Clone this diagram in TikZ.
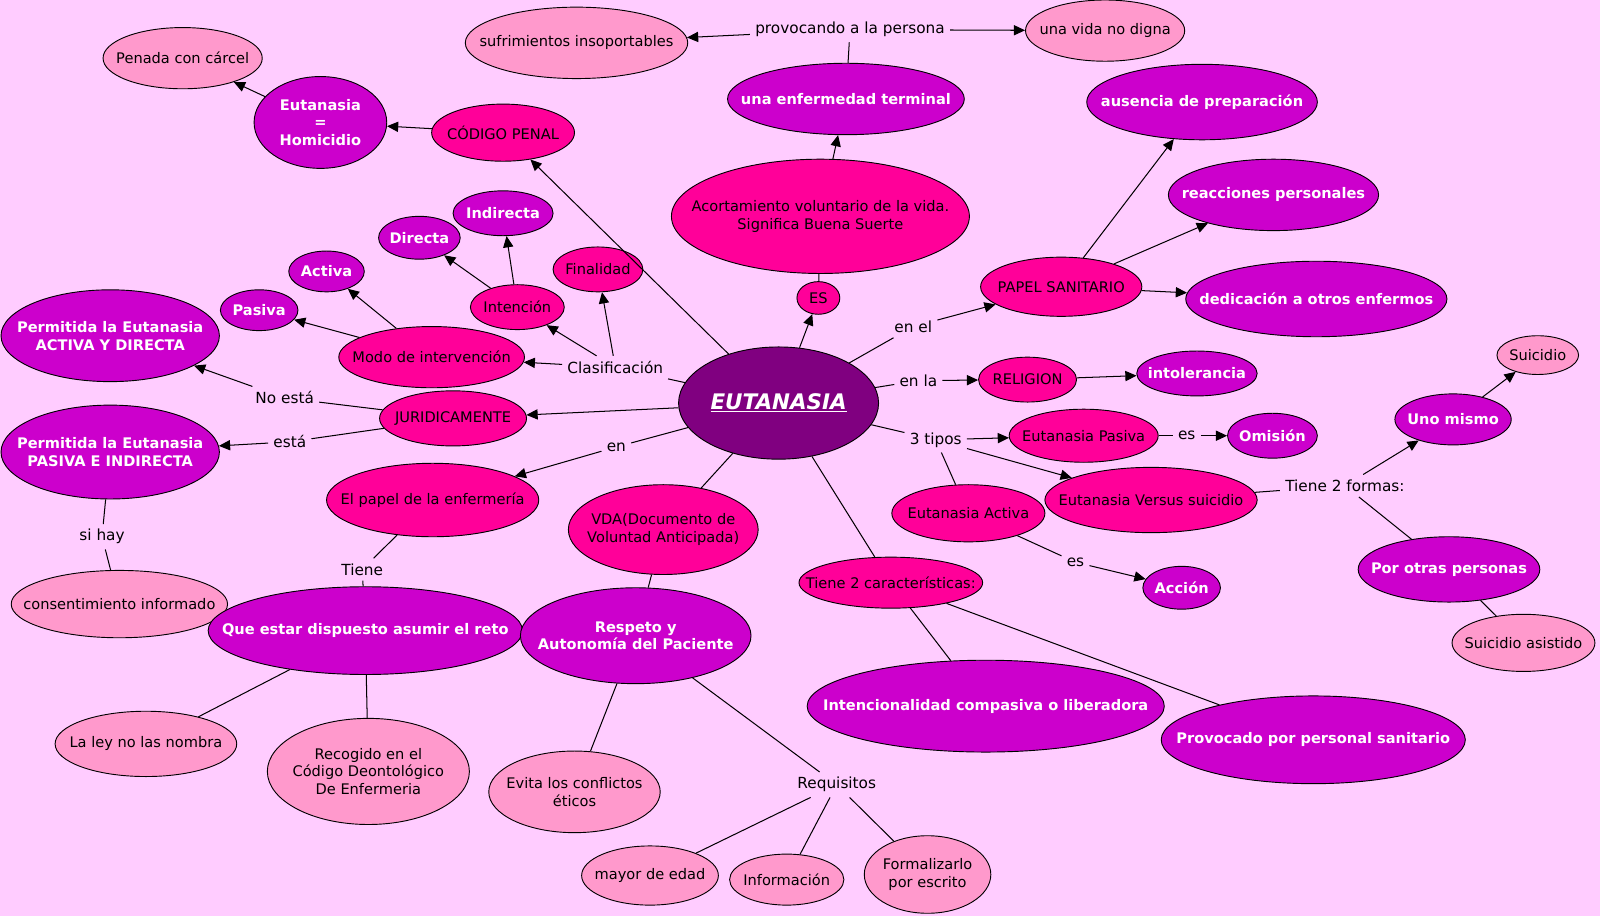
\documentclass[tikz,border=0pt]{standalone}
\usepackage{fontspec}
\setmainfont{DejaVu Sans}
\usetikzlibrary{shapes.geometric,arrows.meta}
\definecolor{bg}{HTML}{FFCCFF}
\definecolor{lpk}{HTML}{FF99CC}
\definecolor{hpk}{HTML}{FF0099}
\definecolor{mgt}{HTML}{CC00CC}
\definecolor{ctr}{HTML}{800080}
\newcommand\EN[7]{\node[#1,minimum width=#5pt,minimum height=#6pt] (#2) at (#3,#4) {};\node[#1txt] at (#2) {#7};}
\tikzset{
  base/.style={ellipse,draw=black,line width=0.9pt,inner sep=0pt},
  lp/.style={base,fill=lpk}, hp/.style={base,fill=hpk}, mg/.style={base,fill=mgt}, ct/.style={base,fill=ctr},
  lptxt/.style={align=center,font=\fontsize{14.3}{17.5}\selectfont,text=black},
  hptxt/.style={align=center,font=\fontsize{14.3}{17.5}\selectfont,text=black},
  mgtxt/.style={align=center,font=\fontsize{14.3}{17.5}\selectfont\bfseries,text=white},
  cttxt/.style={font=\fontsize{21}{24}\selectfont\bfseries\itshape,text=white},
  lab/.style={font=\fontsize{15}{17}\selectfont,inner sep=5pt,fill=bg},
  ln/.style={line width=1pt},
  arr/.style={line width=1pt,-{Triangle[length=11pt,width=10pt]}}
}
\begin{document}
\begin{tikzpicture}[x=1pt,y=-1pt]
\fill[bg] (0,0) rectangle (1568,898);
\useasboundingbox (0,0) rectangle (1568,898);
% light pink
\EN{lp}{suf}{565}{42}{218}{70}{sufrimientos insoportables}
\EN{lp}{vida}{1083}{30}{156}{60}{una vida no digna}
\EN{lp}{penada}{179}{57}{156}{60}{Penada con cárcel}
\EN{lp}{consent}{117}{592}{212}{66}{consentimiento informado}
\EN{lp}{ley}{143}{729}{178}{64}{La ley no las nombra}
\EN{lp}{recog}{361}{756}{198}{104}{Recogido en el\\Código Deontológico\\De Enfermeria}
\EN{lp}{evita}{563}{776}{168}{80}{Evita los conflictos\\éticos}
\EN{lp}{mayor}{637}{858}{134}{58}{mayor de edad}
\EN{lp}{info}{771}{862}{112}{50}{Información}
\EN{lp}{formal}{909}{857}{124}{76}{Formalizarlo\\por escrito}
\EN{lp}{suicidio}{1507}{348}{80}{38}{Suicidio}
\EN{lp}{asistido}{1493}{630}{140}{56}{Suicidio asistido}
% hot pink
\EN{hp}{codigo}{493}{130}{140}{56}{CÓDIGO PENAL}
\EN{hp}{acort}{804}{212}{292}{112}{Acortamiento voluntario de la vida.\\Significa Buena Suerte}
\EN{hp}{es}{802}{292}{42}{32}{ES}
\EN{hp}{intencion}{507}{301}{92}{44}{Intención}
\EN{hp}{finalidad}{586}{264}{88}{44}{Finalidad}
\EN{hp}{modo}{423}{350}{182}{60}{Modo de intervención}
\EN{hp}{jurid}{444}{410}{144}{54}{JURIDICAMENTE}
\EN{hp}{papel}{1040}{281}{158}{58}{PAPEL SANITARIO}
\EN{hp}{religion}{1007}{372}{96}{44}{RELIGION}
\EN{hp}{epasiva}{1062}{427}{146}{52}{Eutanasia Pasiva}
\EN{hp}{eactiva}{949}{503}{150}{56}{Eutanasia Activa}
\EN{hp}{eversus}{1128}{490}{208}{64}{Eutanasia Versus suicidio}
\EN{hp}{enfer}{424}{490}{208}{72}{El papel de la enfermería}
\EN{hp}{vda}{650}{519}{186}{88}{VDA(Documento de\\Voluntad Anticipada)}
\EN{hp}{tienec}{873}{571}{180}{50}{Tiene 2 características:}
% magenta
\EN{mg}{euthom}{314}{120}{130}{90}{Eutanasia\\=\\Homicidio}
\EN{mg}{eterm}{829}{97}{232}{70}{una enfermedad terminal}
\EN{mg}{ausencia}{1178}{100}{226}{74}{ausencia de preparación}
\EN{mg}{reacc}{1248}{191}{206}{70}{reacciones personales}
\EN{mg}{dedic}{1290}{293}{256}{74}{dedicación a otros enfermos}
\EN{mg}{indirecta}{493}{209}{98}{44}{Indirecta}
\EN{mg}{directa}{411}{233}{80}{42}{Directa}
\EN{mg}{activa}{320}{266}{74}{40}{Activa}
\EN{mg}{pasiva}{254}{304}{76}{40}{Pasiva}
\EN{mg}{permAD}{108}{329}{214}{90}{Permitida la Eutanasia\\ACTIVA Y DIRECTA}
\EN{mg}{permPI}{108}{443}{214}{92}{Permitida la Eutanasia\\PASIVA E INDIRECTA}
\EN{mg}{intoler}{1173}{366}{118}{44}{intolerancia}
\EN{mg}{omision}{1247}{427}{88}{44}{Omisión}
\EN{mg}{accion}{1158}{576}{76}{42}{Acción}
\EN{mg}{unomismo}{1424}{411}{114}{50}{Uno mismo}
\EN{mg}{otras}{1420}{558}{178}{64}{Por otras personas}
\EN{mg}{reto}{358}{618}{308}{86}{Que estar dispuesto asumir el reto}
\EN{mg}{respeto}{623}{623}{226}{94}{Respeto y\\Autonomía del Paciente}
\EN{mg}{intenc}{966}{692}{350}{90}{Intencionalidad compasiva o liberadora}
\EN{mg}{provoc}{1287}{725}{298}{86}{Provocado por personal sanitario}
% center
\node[ct,minimum width=196pt,minimum height=110pt] (eut) at (763,395) {};
\node[cttxt] at (eut) {\underline{EUTANASIA}};
% labels
\node[lab] (lprov) at (833,29) {provocando a la persona};
\node[lab] (lenel) at (895,320) {en el};
\node[lab] (lenla) at (900,373) {en la};
\node[lab] (l3) at (917,431) {3 tipos};
\node[lab] (les1) at (1163,427) {es};
\node[lab] (les2) at (1054,551) {es};
\node[lab] (lformas) at (1318,476) {Tiene 2 formas:};
\node[lab] (lclas) at (603,360) {Clasificación};
\node[lab] (lno) at (279,390) {No está};
\node[lab] (lesta) at (284,433) {está};
\node[lab] (len) at (604,438) {en};
\node[lab] (lsi) at (100,526) {si hay};
\node[lab] (ltiene) at (355,558) {Tiene};
\node[lab] (lreq) at (820,769) {Requisitos};
% connectors
\draw[arr] (eut) -- (codigo);
\draw[arr] (codigo) -- (euthom);
\draw[arr] (euthom) -- (penada);
\draw[arr] (eut) -- (es);
\draw[ln] (es) -- (acort);
\draw[arr] (acort) -- (eterm);
\draw[ln] (eterm) -- (lprov);
\draw[arr] (lprov) -- (suf);
\draw[arr] (lprov) -- (vida);
\draw[ln] (eut) -- (lenel); \draw[arr] (lenel) -- (papel);
\draw[arr] (papel) -- (ausencia);
\draw[arr] (papel) -- (reacc);
\draw[arr] (papel) -- (dedic);
\draw[ln] (eut) -- (lenla); \draw[arr] (lenla) -- (religion);
\draw[arr] (religion) -- (intoler);
\draw[ln] (eut) -- (l3); \draw[arr] (l3) -- (epasiva);
\draw[arr] (l3) -- (eversus);
\draw[ln] (l3) -- (eactiva);
\draw[ln] (epasiva) -- (les1); \draw[arr] (les1) -- (omision);
\draw[ln] (eactiva) -- (les2); \draw[arr] (les2) -- (accion);
\draw[ln] (eversus) -- (lformas); \draw[arr] (lformas) -- (unomismo);
\draw[ln] (lformas) -- (otras);
\draw[arr] (unomismo) -- (suicidio);
\draw[ln] (otras) -- (asistido);
\draw[ln] (eut) -- (lclas); \draw[arr] (lclas) -- (modo);
\draw[arr] (lclas) -- (intencion);
\draw[arr] (lclas) -- (finalidad);
\draw[arr] (modo) -- (pasiva);
\draw[arr] (modo) -- (activa);
\draw[arr] (intencion) -- (directa);
\draw[arr] (intencion) -- (indirecta);
\draw[arr] (eut) -- (jurid);
\draw[ln] (jurid) -- (lno); \draw[arr] (lno) -- (permAD);
\draw[ln] (jurid) -- (lesta); \draw[arr] (lesta) -- (permPI);
\draw[ln] (permPI) -- (lsi); \draw[ln] (lsi) -- (consent);
\draw[ln] (eut) -- (len); \draw[arr] (len) -- (enfer);
\draw[ln] (enfer) -- (ltiene); \draw[ln] (ltiene) -- (reto);
\draw[ln] (reto) -- (ley);
\draw[ln] (reto) -- (recog);
\draw[ln] (eut) -- (vda);
\draw[ln] (vda) -- (respeto);
\draw[ln] (respeto) -- (evita);
\draw[ln] (respeto) -- (lreq);
\draw[ln] (lreq) -- (mayor);
\draw[ln] (lreq) -- (info);
\draw[ln] (lreq) -- (formal);
\draw[ln] (eut) -- (tienec);
\draw[ln] (tienec) -- (intenc);
\draw[ln] (tienec) -- (provoc);
\end{tikzpicture}
\end{document}
